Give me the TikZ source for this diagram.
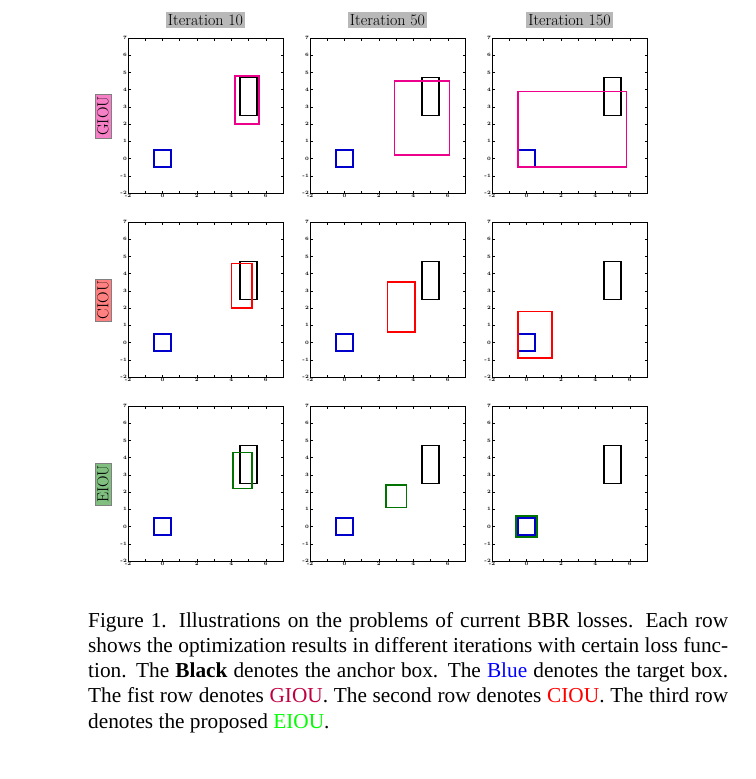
\documentclass[tikz,border=0pt]{standalone}
\usepackage{fontspec}
\newfontfamily\capf{Liberation Serif}
\begin{document}
\begin{tikzpicture}[x=1pt,y=-1pt,
 frame/.style={draw=black,line width=0.8pt},
 bx/.style={line width=1.6pt},
 tick/.style={font=\fontsize{5}{5}\selectfont\bfseries},
 head/.style={fill=black!28,font=\fontsize{16}{16}\selectfont,inner sep=2pt},
 rowl/.style={rotate=90,draw=black!50,font=\fontsize{16}{16}\selectfont,inner sep=2pt}]
\useasboundingbox (0,0) rectangle (755,779);
\fill[white] (0,0) rectangle (755,779);
\newcommand{\drbox}[5]{\draw[bx,#1] ({(#2+2)*17.22},{(7-#4)*17.22}) rectangle ({(#3+2)*17.22},{(7-#5)*17.22});}
\newcommand{\panel}[7]{%
 \begin{scope}[shift={(#1,#2)}]
  \draw[frame] (0,0) rectangle (155,155);
  \foreach \k in {0,...,9}{\draw[line width=0.4pt] (0,{\k*155/9}) -- ++(2.5,0) (155,{\k*155/9}) -- ++(-2.5,0) ({\k*155/9},0) -- ++(0,2.5) ({\k*155/9},155) -- ++(0,-2.5);}
  \foreach \v in {-2,...,7}{\node[tick,left,inner sep=1pt] at (0,{(7-\v)*155/9}) {\v};}
  \foreach \v in {-2,0,2,4,6}{\node[tick,below,inner sep=1pt] at ({(\v+2)*155/9},155) {\v};}
  \drbox{blue!80!black}{-0.5}{0.5}{-0.5}{0.5}
  \drbox{black}{4.5}{5.5}{2.5}{4.7}
  \drbox{#3}{#4}{#5}{#6}{#7}
 \end{scope}}
\panel{128}{38}{magenta}{4.2}{5.6}{2.0}{4.8}
\panel{310}{38}{magenta}{2.9}{6.1}{0.2}{4.5}
\panel{492}{38}{magenta}{-0.5}{5.8}{-0.5}{3.9}
\panel{128}{222}{red}{4.0}{5.2}{2.0}{4.6}
\panel{310}{222}{red}{2.5}{4.1}{0.6}{3.5}
\panel{492}{222}{red}{-0.5}{1.5}{-0.9}{1.8}
\panel{128}{406}{green!45!black}{4.1}{5.2}{2.2}{4.3}
\panel{310}{406}{green!45!black}{2.4}{3.6}{1.1}{2.4}
\panel{492}{406}{green!45!black}{-0.6}{0.6}{-0.6}{0.6}
\node[head] (h1) at (205.5,20) {Iteration 10};
\node[head] (h2) at (387.5,20) {Iteration 50};
\node[head] (h3) at (569.5,20) {Iteration 150};
\node[rowl,fill=magenta!50] (r1) at (103,116) {GIOU};
\node[rowl,fill=red!50] (r2) at (103,300) {CIOU};
\node[rowl,fill=green!50!black!50] (r3) at (103,484) {EIOU};
\node[anchor=north west,inner sep=0pt,text width=640pt,align=justify,font=\capf\fontsize{21.3}{25.2}\selectfont] (cap) at (88,612) {Figure 1. Illustrations on the problems of current BBR losses. Each row shows the optimization results in different iterations with certain loss function. The \textbf{Black} denotes the anchor box. The \textcolor{blue}{Blue} denotes the target box. The fist row denotes \textcolor{purple}{GIOU}. The second row denotes \textcolor{red}{CIOU}. The third row denotes the proposed \textcolor{green}{EIOU}.};
\end{tikzpicture}
\end{document}
